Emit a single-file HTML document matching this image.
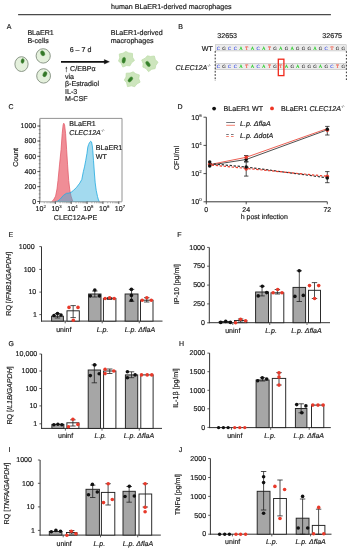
<!DOCTYPE html>
<html><head><meta charset="utf-8"><style>
html,body{margin:0;padding:0;background:#fff;width:351px;height:550px;overflow:hidden}
svg{display:block;will-change:transform}
text{font-family:"Liberation Sans", sans-serif;stroke-width:0.18px;text-rendering:geometricPrecision}
</style></head><body>
<svg width="351" height="550" viewBox="0 0 351 550">
<rect width="351" height="550" fill="#fff"/>
<text x="111" y="9.2" font-size="7.1" text-anchor="start" fill="#1a1a1a" stroke="#1a1a1a" >human BLaER1-derived macrophages</text>
<line x1="18.1" y1="14.7" x2="330.9" y2="14.7" stroke="#4a4a4a" stroke-width="1.3" />
<text x="6.7" y="28.7" font-size="7" text-anchor="start" fill="#1a1a1a" stroke="#1a1a1a" >A</text>
<text x="27.4" y="35.2" font-size="7.1" text-anchor="start" fill="#1a1a1a" stroke="#1a1a1a" >BLaER1</text>
<text x="27.4" y="43" font-size="7.1" text-anchor="start" fill="#1a1a1a" stroke="#1a1a1a" >B-cells</text>
<ellipse cx="21.5" cy="64.1" rx="6.6" ry="7.4" fill="#e4f0dc" stroke="#879384" stroke-width="0.95"/>
<ellipse cx="22.6" cy="61" rx="1.6" ry="2.4" transform="rotate(15 22.6 61)" fill="#347727" stroke="#5f9a55" stroke-width="0.4"/>
<ellipse cx="43.2" cy="55.9" rx="7.1" ry="7.2" fill="#e4f0dc" stroke="#879384" stroke-width="0.95"/>
<ellipse cx="42.7" cy="53.3" rx="2.0" ry="2.7" transform="rotate(-25 42.7 53.3)" fill="#347727" stroke="#5f9a55" stroke-width="0.4"/>
<ellipse cx="43.6" cy="75.9" rx="6.9" ry="7.2" fill="#e4f0dc" stroke="#879384" stroke-width="0.95"/>
<ellipse cx="44.9" cy="74.2" rx="1.9" ry="2.8" transform="rotate(25 44.9 74.2)" fill="#347727" stroke="#5f9a55" stroke-width="0.4"/>
<line x1="61" y1="61.8" x2="106" y2="61.8" stroke="#111" stroke-width="1.7" />
<polygon points="104.3,59.6 109.4,61.8 104.3,64" fill="#111" stroke="#111" stroke-width="0.4" stroke-linejoin="round"/>
<text x="69.7" y="52.1" font-size="7.1" text-anchor="start" fill="#1a1a1a" stroke="#1a1a1a" >6 – 7 d</text>
<text x="65" y="78.8" font-size="7.1" text-anchor="start" fill="#1a1a1a" stroke="#1a1a1a" >via</text>
<text x="65" y="86.3" font-size="7.1" text-anchor="start" fill="#1a1a1a" stroke="#1a1a1a" >β-Estradiol</text>
<text x="65" y="93.8" font-size="7.1" text-anchor="start" fill="#1a1a1a" stroke="#1a1a1a" >IL-3</text>
<text x="65" y="101.3" font-size="7.1" text-anchor="start" fill="#1a1a1a" stroke="#1a1a1a" >M-CSF</text>
<text x="70.1" y="71.3" font-size="7.1" text-anchor="start" fill="#1a1a1a" stroke="#1a1a1a" >C/EBPα</text>
<line x1="66.4" y1="67.6" x2="66.4" y2="72.2" stroke="#444" stroke-width="0.65" />
<polygon points="65.4,68.6 66.4,66.5 67.4,68.6" fill="#333"/>
<text x="110.7" y="35" font-size="7.1" text-anchor="start" fill="#1a1a1a" stroke="#1a1a1a" >BLaER1-derived</text>
<text x="110.7" y="42.8" font-size="7.1" text-anchor="start" fill="#1a1a1a" stroke="#1a1a1a" >macrophages</text>
<polygon points="134.47,60.46 131.56,62.85 129.94,65.86 126.53,65.59 122.81,67.05 121.25,63.37 118.52,61.16 119.70,57.85 119.24,54.00 123.04,53.20 125.82,51.45 128.76,52.92 132.50,53.44 132.55,57.21" fill="#cde5bd" stroke="#bcdca6" stroke-width="0.7" stroke-linejoin="round"/>
<ellipse cx="123.8" cy="60.2" rx="1.75" ry="3.0" transform="rotate(10 123.8 60.2)" fill="#347f2a" stroke="#5a9c48" stroke-width="0.45"/>
<polygon points="158.07,62.27 155.87,65.33 155.08,68.66 151.72,69.28 148.51,71.65 146.05,68.50 142.84,67.08 143.13,63.58 141.69,59.97 145.15,58.22 147.38,55.80 150.60,56.46 154.34,56.00 155.37,59.63" fill="#cde5bd" stroke="#bcdca6" stroke-width="0.7" stroke-linejoin="round"/>
<ellipse cx="148" cy="64" rx="1.75" ry="3.0" transform="rotate(-35 148 64)" fill="#347f2a" stroke="#5a9c48" stroke-width="0.45"/>
<polygon points="140.09,82.17 136.81,84.02 134.69,86.71 131.38,85.85 127.46,86.64 126.57,82.74 124.26,80.09 126.00,77.04 126.22,73.17 130.10,73.04 133.14,71.80 135.78,73.76 139.37,74.92 138.77,78.64" fill="#cde5bd" stroke="#bcdca6" stroke-width="0.7" stroke-linejoin="round"/>
<ellipse cx="130.4" cy="79.5" rx="1.75" ry="3.0" transform="rotate(40 130.4 79.5)" fill="#347f2a" stroke="#5a9c48" stroke-width="0.45"/>
<text x="178.3" y="28.7" font-size="7" text-anchor="start" fill="#1a1a1a" stroke="#1a1a1a" >B</text>
<text x="217.3" y="38.2" font-size="7.1" text-anchor="start" fill="#1a1a1a" stroke="#1a1a1a" >32653</text>
<text x="322.3" y="38.2" font-size="7.1" text-anchor="start" fill="#1a1a1a" stroke="#1a1a1a" >32675</text>
<text x="201.8" y="50.8" font-size="7.1" text-anchor="start" fill="#1a1a1a" stroke="#1a1a1a" >WT</text>
<text x="175.6" y="70" font-size="7.1" font-style="italic" fill="#1a1a1a" stroke="#1a1a1a">CLEC12A<tspan font-size="4.2" font-style="normal" dy="-3" fill="#555" style="stroke-width:0.05px">-/-</tspan></text>
<rect x="215.5" y="44.7" width="130.7" height="6.2" fill="#ececec" stroke="#bdbdbd" stroke-width="0.6"/>
<rect x="215.5" y="63.4" width="130.7" height="6.2" fill="#ececec" stroke="#bdbdbd" stroke-width="0.6"/>
<text x="218.30" y="49.9" font-size="4.8" text-anchor="middle" fill="#4a5ae6" stroke="#4a5ae6" style="stroke-width:0.12px;font-family:Liberation Serif;text-rendering:geometricPrecision">C</text>
<text x="223.98" y="49.9" font-size="4.8" text-anchor="middle" fill="#3a3a3a" stroke="#3a3a3a" style="stroke-width:0.12px;font-family:Liberation Serif;text-rendering:geometricPrecision">G</text>
<text x="229.66" y="49.9" font-size="4.8" text-anchor="middle" fill="#4a5ae6" stroke="#4a5ae6" style="stroke-width:0.12px;font-family:Liberation Serif;text-rendering:geometricPrecision">C</text>
<text x="235.34" y="49.9" font-size="4.8" text-anchor="middle" fill="#4a5ae6" stroke="#4a5ae6" style="stroke-width:0.12px;font-family:Liberation Serif;text-rendering:geometricPrecision">C</text>
<text x="241.02" y="49.9" font-size="4.8" text-anchor="middle" fill="#22cc22" stroke="#22cc22" style="stroke-width:0.12px;font-family:Liberation Serif;text-rendering:geometricPrecision">A</text>
<text x="246.70" y="49.9" font-size="4.8" text-anchor="middle" fill="#f0402c" stroke="#f0402c" style="stroke-width:0.12px;font-family:Liberation Serif;text-rendering:geometricPrecision">T</text>
<text x="252.38" y="49.9" font-size="4.8" text-anchor="middle" fill="#22cc22" stroke="#22cc22" style="stroke-width:0.12px;font-family:Liberation Serif;text-rendering:geometricPrecision">A</text>
<text x="258.06" y="49.9" font-size="4.8" text-anchor="middle" fill="#4a5ae6" stroke="#4a5ae6" style="stroke-width:0.12px;font-family:Liberation Serif;text-rendering:geometricPrecision">C</text>
<text x="263.74" y="49.9" font-size="4.8" text-anchor="middle" fill="#22cc22" stroke="#22cc22" style="stroke-width:0.12px;font-family:Liberation Serif;text-rendering:geometricPrecision">A</text>
<text x="269.42" y="49.9" font-size="4.8" text-anchor="middle" fill="#f0402c" stroke="#f0402c" style="stroke-width:0.12px;font-family:Liberation Serif;text-rendering:geometricPrecision">T</text>
<text x="275.10" y="49.9" font-size="4.8" text-anchor="middle" fill="#3a3a3a" stroke="#3a3a3a" style="stroke-width:0.12px;font-family:Liberation Serif;text-rendering:geometricPrecision">G</text>
<text x="280.78" y="49.9" font-size="4.8" text-anchor="middle" fill="#22cc22" stroke="#22cc22" style="stroke-width:0.12px;font-family:Liberation Serif;text-rendering:geometricPrecision">A</text>
<text x="286.46" y="49.9" font-size="4.8" text-anchor="middle" fill="#3a3a3a" stroke="#3a3a3a" style="stroke-width:0.12px;font-family:Liberation Serif;text-rendering:geometricPrecision">G</text>
<text x="292.14" y="49.9" font-size="4.8" text-anchor="middle" fill="#22cc22" stroke="#22cc22" style="stroke-width:0.12px;font-family:Liberation Serif;text-rendering:geometricPrecision">A</text>
<text x="297.82" y="49.9" font-size="4.8" text-anchor="middle" fill="#3a3a3a" stroke="#3a3a3a" style="stroke-width:0.12px;font-family:Liberation Serif;text-rendering:geometricPrecision">G</text>
<text x="303.50" y="49.9" font-size="4.8" text-anchor="middle" fill="#3a3a3a" stroke="#3a3a3a" style="stroke-width:0.12px;font-family:Liberation Serif;text-rendering:geometricPrecision">G</text>
<text x="309.18" y="49.9" font-size="4.8" text-anchor="middle" fill="#3a3a3a" stroke="#3a3a3a" style="stroke-width:0.12px;font-family:Liberation Serif;text-rendering:geometricPrecision">G</text>
<text x="314.86" y="49.9" font-size="4.8" text-anchor="middle" fill="#22cc22" stroke="#22cc22" style="stroke-width:0.12px;font-family:Liberation Serif;text-rendering:geometricPrecision">A</text>
<text x="320.54" y="49.9" font-size="4.8" text-anchor="middle" fill="#3a3a3a" stroke="#3a3a3a" style="stroke-width:0.12px;font-family:Liberation Serif;text-rendering:geometricPrecision">G</text>
<text x="326.22" y="49.9" font-size="4.8" text-anchor="middle" fill="#4a5ae6" stroke="#4a5ae6" style="stroke-width:0.12px;font-family:Liberation Serif;text-rendering:geometricPrecision">C</text>
<text x="331.90" y="49.9" font-size="4.8" text-anchor="middle" fill="#f0402c" stroke="#f0402c" style="stroke-width:0.12px;font-family:Liberation Serif;text-rendering:geometricPrecision">T</text>
<text x="337.58" y="49.9" font-size="4.8" text-anchor="middle" fill="#3a3a3a" stroke="#3a3a3a" style="stroke-width:0.12px;font-family:Liberation Serif;text-rendering:geometricPrecision">G</text>
<text x="343.26" y="49.9" font-size="4.8" text-anchor="middle" fill="#3a3a3a" stroke="#3a3a3a" style="stroke-width:0.12px;font-family:Liberation Serif;text-rendering:geometricPrecision">G</text>
<text x="218.30" y="68.2" font-size="4.8" text-anchor="middle" fill="#4a5ae6" stroke="#4a5ae6" style="stroke-width:0.12px;font-family:Liberation Serif;text-rendering:geometricPrecision">C</text>
<text x="223.98" y="68.2" font-size="4.8" text-anchor="middle" fill="#3a3a3a" stroke="#3a3a3a" style="stroke-width:0.12px;font-family:Liberation Serif;text-rendering:geometricPrecision">G</text>
<text x="229.66" y="68.2" font-size="4.8" text-anchor="middle" fill="#4a5ae6" stroke="#4a5ae6" style="stroke-width:0.12px;font-family:Liberation Serif;text-rendering:geometricPrecision">C</text>
<text x="235.34" y="68.2" font-size="4.8" text-anchor="middle" fill="#4a5ae6" stroke="#4a5ae6" style="stroke-width:0.12px;font-family:Liberation Serif;text-rendering:geometricPrecision">C</text>
<text x="241.02" y="68.2" font-size="4.8" text-anchor="middle" fill="#22cc22" stroke="#22cc22" style="stroke-width:0.12px;font-family:Liberation Serif;text-rendering:geometricPrecision">A</text>
<text x="246.70" y="68.2" font-size="4.8" text-anchor="middle" fill="#f0402c" stroke="#f0402c" style="stroke-width:0.12px;font-family:Liberation Serif;text-rendering:geometricPrecision">T</text>
<text x="252.38" y="68.2" font-size="4.8" text-anchor="middle" fill="#22cc22" stroke="#22cc22" style="stroke-width:0.12px;font-family:Liberation Serif;text-rendering:geometricPrecision">A</text>
<text x="258.06" y="68.2" font-size="4.8" text-anchor="middle" fill="#4a5ae6" stroke="#4a5ae6" style="stroke-width:0.12px;font-family:Liberation Serif;text-rendering:geometricPrecision">C</text>
<text x="263.74" y="68.2" font-size="4.8" text-anchor="middle" fill="#22cc22" stroke="#22cc22" style="stroke-width:0.12px;font-family:Liberation Serif;text-rendering:geometricPrecision">A</text>
<text x="269.42" y="68.2" font-size="4.8" text-anchor="middle" fill="#f0402c" stroke="#f0402c" style="stroke-width:0.12px;font-family:Liberation Serif;text-rendering:geometricPrecision">T</text>
<text x="275.10" y="68.2" font-size="4.8" text-anchor="middle" fill="#3a3a3a" stroke="#3a3a3a" style="stroke-width:0.12px;font-family:Liberation Serif;text-rendering:geometricPrecision">G</text>
<text x="280.78" y="68.2" font-size="4.8" text-anchor="middle" fill="#f0402c" stroke="#f0402c" style="stroke-width:0.12px;font-family:Liberation Serif;text-rendering:geometricPrecision">T</text>
<text x="286.46" y="68.2" font-size="4.8" text-anchor="middle" fill="#22cc22" stroke="#22cc22" style="stroke-width:0.12px;font-family:Liberation Serif;text-rendering:geometricPrecision">A</text>
<text x="292.14" y="68.2" font-size="4.8" text-anchor="middle" fill="#3a3a3a" stroke="#3a3a3a" style="stroke-width:0.12px;font-family:Liberation Serif;text-rendering:geometricPrecision">G</text>
<text x="297.82" y="68.2" font-size="4.8" text-anchor="middle" fill="#22cc22" stroke="#22cc22" style="stroke-width:0.12px;font-family:Liberation Serif;text-rendering:geometricPrecision">A</text>
<text x="303.50" y="68.2" font-size="4.8" text-anchor="middle" fill="#3a3a3a" stroke="#3a3a3a" style="stroke-width:0.12px;font-family:Liberation Serif;text-rendering:geometricPrecision">G</text>
<text x="309.18" y="68.2" font-size="4.8" text-anchor="middle" fill="#3a3a3a" stroke="#3a3a3a" style="stroke-width:0.12px;font-family:Liberation Serif;text-rendering:geometricPrecision">G</text>
<text x="314.86" y="68.2" font-size="4.8" text-anchor="middle" fill="#3a3a3a" stroke="#3a3a3a" style="stroke-width:0.12px;font-family:Liberation Serif;text-rendering:geometricPrecision">G</text>
<text x="320.54" y="68.2" font-size="4.8" text-anchor="middle" fill="#22cc22" stroke="#22cc22" style="stroke-width:0.12px;font-family:Liberation Serif;text-rendering:geometricPrecision">A</text>
<text x="326.22" y="68.2" font-size="4.8" text-anchor="middle" fill="#3a3a3a" stroke="#3a3a3a" style="stroke-width:0.12px;font-family:Liberation Serif;text-rendering:geometricPrecision">G</text>
<text x="331.90" y="68.2" font-size="4.8" text-anchor="middle" fill="#4a5ae6" stroke="#4a5ae6" style="stroke-width:0.12px;font-family:Liberation Serif;text-rendering:geometricPrecision">C</text>
<text x="337.58" y="68.2" font-size="4.8" text-anchor="middle" fill="#f0402c" stroke="#f0402c" style="stroke-width:0.12px;font-family:Liberation Serif;text-rendering:geometricPrecision">T</text>
<text x="343.26" y="68.2" font-size="4.8" text-anchor="middle" fill="#3a3a3a" stroke="#3a3a3a" style="stroke-width:0.12px;font-family:Liberation Serif;text-rendering:geometricPrecision">G</text>
<rect x="278.3" y="59.2" width="5.6" height="16.4" fill="none" stroke="#f0281a" stroke-width="1.3"/>
<line x1="215.2" y1="51" x2="215.2" y2="81" stroke="#333" stroke-width="1.0" stroke-dasharray="1.8,1.5"/>
<line x1="346.4" y1="51.2" x2="346.4" y2="81" stroke="#333" stroke-width="1.0" stroke-dasharray="1.6,1.8"/>
<text x="8.6" y="108.7" font-size="7" text-anchor="start" fill="#1a1a1a" stroke="#1a1a1a" >C</text>
<polyline points="39.8,118.4 122,118.4 122,201.6" fill="none" stroke="#777" stroke-width="0.8"/>
<text x="36.2" y="128.4" font-size="7" text-anchor="end" fill="#1a1a1a" stroke="#1a1a1a" >1000</text>
<text x="36.2" y="143.4" font-size="7" text-anchor="end" fill="#1a1a1a" stroke="#1a1a1a" >800</text>
<text x="36.2" y="158.70000000000002" font-size="7" text-anchor="end" fill="#1a1a1a" stroke="#1a1a1a" >600</text>
<text x="36.2" y="174.0" font-size="7" text-anchor="end" fill="#1a1a1a" stroke="#1a1a1a" >400</text>
<text x="36.2" y="189.1" font-size="7" text-anchor="end" fill="#1a1a1a" stroke="#1a1a1a" >200</text>
<text x="36.2" y="203.9" font-size="7" text-anchor="end" fill="#1a1a1a" stroke="#1a1a1a" >0</text>
<text x="35.55" y="211.3" font-size="7.1" fill="#1a1a1a" stroke="#1a1a1a">10<tspan font-size="4.3" dy="-2.9" style="stroke-width:0.1px">2</tspan></text>
<text x="51.41" y="211.3" font-size="7.1" fill="#1a1a1a" stroke="#1a1a1a">10<tspan font-size="4.3" dy="-2.9" style="stroke-width:0.1px">3</tspan></text>
<text x="67.27" y="211.3" font-size="7.1" fill="#1a1a1a" stroke="#1a1a1a">10<tspan font-size="4.3" dy="-2.9" style="stroke-width:0.1px">4</tspan></text>
<text x="83.13" y="211.3" font-size="7.1" fill="#1a1a1a" stroke="#1a1a1a">10<tspan font-size="4.3" dy="-2.9" style="stroke-width:0.1px">5</tspan></text>
<text x="98.99" y="211.3" font-size="7.1" fill="#1a1a1a" stroke="#1a1a1a">10<tspan font-size="4.3" dy="-2.9" style="stroke-width:0.1px">6</tspan></text>
<text x="114.85" y="211.3" font-size="7.1" fill="#1a1a1a" stroke="#1a1a1a">10<tspan font-size="4.3" dy="-2.9" style="stroke-width:0.1px">7</tspan></text>
<text x="75.5" y="220" font-size="7.1" text-anchor="middle" fill="#1a1a1a" stroke="#1a1a1a" >CLEC12A-PE</text>
<text x="18.5" y="157.4" font-size="7.1" text-anchor="middle" fill="#1a1a1a" stroke="#1a1a1a" transform="rotate(-90 18.5 157.4)">Count</text>
<polygon points="51.7,201.5 53.5,200 55.6,196.1 57,189 58,180.5 59.5,164.9 61.1,149.3 62.2,133.6 63.1,125 63.75,123.2 64.6,125 65.6,133.6 66.6,149.3 67.6,164.9 68.7,180.5 69.8,189.9 71,196.1 72.8,201.5" fill="#f08d96" stroke="#e25a68" stroke-width="0.75"/>
<polygon points="55.5,201.5 57.7,201.2 60.3,199 63.4,195.4 66.5,193.3 69,193.1 71.1,192.3 73.6,190.3 76.7,187.2 79.8,183.1 81.8,179.5 83.3,171.8 84.5,166.9 85.7,160.7 87,153.3 87.8,147.1 88.6,144.6 89.4,142.8 90.7,141.2 91.5,141.9 92.3,145.9 92.8,150.8 93.5,160.7 94.4,173 95.2,182.9 96.2,190.3 97.5,196.5 98.7,200.8 99.9,201.5" fill="#3bb0dd" fill-opacity="0.47" stroke="#2aaee0" stroke-width="0.85"/>
<line x1="39.8" y1="118.4" x2="39.8" y2="202.3" stroke="#a8a8a8" stroke-width="1.6" />
<line x1="38.7" y1="201.5" x2="40.3" y2="201.5" stroke="#666" stroke-width="0.7" />
<line x1="38.7" y1="197.725" x2="40.3" y2="197.725" stroke="#666" stroke-width="0.7" />
<line x1="38.7" y1="193.95" x2="40.3" y2="193.95" stroke="#666" stroke-width="0.7" />
<line x1="38.7" y1="190.175" x2="40.3" y2="190.175" stroke="#666" stroke-width="0.7" />
<line x1="38.7" y1="186.4" x2="40.3" y2="186.4" stroke="#666" stroke-width="0.7" />
<line x1="38.7" y1="182.625" x2="40.3" y2="182.625" stroke="#666" stroke-width="0.7" />
<line x1="38.7" y1="178.85" x2="40.3" y2="178.85" stroke="#666" stroke-width="0.7" />
<line x1="38.7" y1="175.075" x2="40.3" y2="175.075" stroke="#666" stroke-width="0.7" />
<line x1="38.7" y1="171.3" x2="40.3" y2="171.3" stroke="#666" stroke-width="0.7" />
<line x1="38.7" y1="167.525" x2="40.3" y2="167.525" stroke="#666" stroke-width="0.7" />
<line x1="38.7" y1="163.75" x2="40.3" y2="163.75" stroke="#666" stroke-width="0.7" />
<line x1="38.7" y1="159.975" x2="40.3" y2="159.975" stroke="#666" stroke-width="0.7" />
<line x1="38.7" y1="156.2" x2="40.3" y2="156.2" stroke="#666" stroke-width="0.7" />
<line x1="38.7" y1="152.425" x2="40.3" y2="152.425" stroke="#666" stroke-width="0.7" />
<line x1="38.7" y1="148.65" x2="40.3" y2="148.65" stroke="#666" stroke-width="0.7" />
<line x1="38.7" y1="144.875" x2="40.3" y2="144.875" stroke="#666" stroke-width="0.7" />
<line x1="38.7" y1="141.1" x2="40.3" y2="141.1" stroke="#666" stroke-width="0.7" />
<line x1="38.7" y1="137.325" x2="40.3" y2="137.325" stroke="#666" stroke-width="0.7" />
<line x1="38.7" y1="133.55" x2="40.3" y2="133.55" stroke="#666" stroke-width="0.7" />
<line x1="38.7" y1="129.775" x2="40.3" y2="129.775" stroke="#666" stroke-width="0.7" />
<line x1="38.7" y1="126.0" x2="40.3" y2="126.0" stroke="#666" stroke-width="0.7" />
<line x1="37.3" y1="126" x2="40" y2="126" stroke="#333" stroke-width="0.8" />
<line x1="37.3" y1="141" x2="40" y2="141" stroke="#333" stroke-width="0.8" />
<line x1="37.3" y1="156.3" x2="40" y2="156.3" stroke="#333" stroke-width="0.8" />
<line x1="37.3" y1="171.6" x2="40" y2="171.6" stroke="#333" stroke-width="0.8" />
<line x1="37.3" y1="186.7" x2="40" y2="186.7" stroke="#333" stroke-width="0.8" />
<line x1="37.3" y1="201.5" x2="40" y2="201.5" stroke="#333" stroke-width="0.8" />
<line x1="39.8" y1="201.8" x2="122" y2="201.8" stroke="#9a9a9a" stroke-width="1.0" />
<line x1="44.27433573123074" y1="202" x2="44.27433573123074" y2="203.3" stroke="#888" stroke-width="0.6" />
<line x1="47.067143099853844" y1="202" x2="47.067143099853844" y2="203.3" stroke="#888" stroke-width="0.6" />
<line x1="49.048671462461485" y1="202" x2="49.048671462461485" y2="203.3" stroke="#888" stroke-width="0.6" />
<line x1="50.58566426876926" y1="202" x2="50.58566426876926" y2="203.3" stroke="#888" stroke-width="0.6" />
<line x1="51.841478831084586" y1="202" x2="51.841478831084586" y2="203.3" stroke="#888" stroke-width="0.6" />
<line x1="52.90325491462611" y1="202" x2="52.90325491462611" y2="203.3" stroke="#888" stroke-width="0.6" />
<line x1="53.82300719369222" y1="202" x2="53.82300719369222" y2="203.3" stroke="#888" stroke-width="0.6" />
<line x1="54.63428619970769" y1="202" x2="54.63428619970769" y2="203.3" stroke="#888" stroke-width="0.6" />
<line x1="60.13433573123074" y1="202" x2="60.13433573123074" y2="203.3" stroke="#888" stroke-width="0.6" />
<line x1="62.92714309985384" y1="202" x2="62.92714309985384" y2="203.3" stroke="#888" stroke-width="0.6" />
<line x1="64.90867146246148" y1="202" x2="64.90867146246148" y2="203.3" stroke="#888" stroke-width="0.6" />
<line x1="66.44566426876926" y1="202" x2="66.44566426876926" y2="203.3" stroke="#888" stroke-width="0.6" />
<line x1="67.70147883108459" y1="202" x2="67.70147883108459" y2="203.3" stroke="#888" stroke-width="0.6" />
<line x1="68.76325491462612" y1="202" x2="68.76325491462612" y2="203.3" stroke="#888" stroke-width="0.6" />
<line x1="69.68300719369222" y1="202" x2="69.68300719369222" y2="203.3" stroke="#888" stroke-width="0.6" />
<line x1="70.49428619970769" y1="202" x2="70.49428619970769" y2="203.3" stroke="#888" stroke-width="0.6" />
<line x1="75.99433573123073" y1="202" x2="75.99433573123073" y2="203.3" stroke="#888" stroke-width="0.6" />
<line x1="78.78714309985385" y1="202" x2="78.78714309985385" y2="203.3" stroke="#888" stroke-width="0.6" />
<line x1="80.76867146246148" y1="202" x2="80.76867146246148" y2="203.3" stroke="#888" stroke-width="0.6" />
<line x1="82.30566426876926" y1="202" x2="82.30566426876926" y2="203.3" stroke="#888" stroke-width="0.6" />
<line x1="83.56147883108459" y1="202" x2="83.56147883108459" y2="203.3" stroke="#888" stroke-width="0.6" />
<line x1="84.62325491462612" y1="202" x2="84.62325491462612" y2="203.3" stroke="#888" stroke-width="0.6" />
<line x1="85.54300719369222" y1="202" x2="85.54300719369222" y2="203.3" stroke="#888" stroke-width="0.6" />
<line x1="86.35428619970769" y1="202" x2="86.35428619970769" y2="203.3" stroke="#888" stroke-width="0.6" />
<line x1="91.85433573123073" y1="202" x2="91.85433573123073" y2="203.3" stroke="#888" stroke-width="0.6" />
<line x1="94.64714309985385" y1="202" x2="94.64714309985385" y2="203.3" stroke="#888" stroke-width="0.6" />
<line x1="96.62867146246148" y1="202" x2="96.62867146246148" y2="203.3" stroke="#888" stroke-width="0.6" />
<line x1="98.16566426876926" y1="202" x2="98.16566426876926" y2="203.3" stroke="#888" stroke-width="0.6" />
<line x1="99.42147883108458" y1="202" x2="99.42147883108458" y2="203.3" stroke="#888" stroke-width="0.6" />
<line x1="100.48325491462612" y1="202" x2="100.48325491462612" y2="203.3" stroke="#888" stroke-width="0.6" />
<line x1="101.40300719369222" y1="202" x2="101.40300719369222" y2="203.3" stroke="#888" stroke-width="0.6" />
<line x1="102.21428619970769" y1="202" x2="102.21428619970769" y2="203.3" stroke="#888" stroke-width="0.6" />
<line x1="107.71433573123073" y1="202" x2="107.71433573123073" y2="203.3" stroke="#888" stroke-width="0.6" />
<line x1="110.50714309985385" y1="202" x2="110.50714309985385" y2="203.3" stroke="#888" stroke-width="0.6" />
<line x1="112.48867146246148" y1="202" x2="112.48867146246148" y2="203.3" stroke="#888" stroke-width="0.6" />
<line x1="114.02566426876926" y1="202" x2="114.02566426876926" y2="203.3" stroke="#888" stroke-width="0.6" />
<line x1="115.28147883108458" y1="202" x2="115.28147883108458" y2="203.3" stroke="#888" stroke-width="0.6" />
<line x1="116.34325491462612" y1="202" x2="116.34325491462612" y2="203.3" stroke="#888" stroke-width="0.6" />
<line x1="117.26300719369222" y1="202" x2="117.26300719369222" y2="203.3" stroke="#888" stroke-width="0.6" />
<line x1="118.07428619970769" y1="202" x2="118.07428619970769" y2="203.3" stroke="#888" stroke-width="0.6" />
<line x1="39.5" y1="201.5" x2="39.5" y2="204" stroke="#333" stroke-width="0.8" />
<line x1="55.36" y1="201.5" x2="55.36" y2="204" stroke="#333" stroke-width="0.8" />
<line x1="71.22" y1="201.5" x2="71.22" y2="204" stroke="#333" stroke-width="0.8" />
<line x1="87.08" y1="201.5" x2="87.08" y2="204" stroke="#333" stroke-width="0.8" />
<line x1="102.94" y1="201.5" x2="102.94" y2="204" stroke="#333" stroke-width="0.8" />
<line x1="118.8" y1="201.5" x2="118.8" y2="204" stroke="#333" stroke-width="0.8" />
<text x="69.3" y="126.4" font-size="7.1" text-anchor="start" fill="#1a1a1a" stroke="#1a1a1a" >BLaER1</text>
<text x="69.3" y="134.9" font-size="7.1" font-style="italic" fill="#1a1a1a" stroke="#1a1a1a">CLEC12A<tspan font-size="4.2" font-style="normal" dy="-3" fill="#555" style="stroke-width:0.05px">-/-</tspan></text>
<text x="95.8" y="150" font-size="7.1" text-anchor="start" fill="#1a1a1a" stroke="#1a1a1a" >BLaER1</text>
<text x="95.8" y="159" font-size="7.1" text-anchor="start" fill="#1a1a1a" stroke="#1a1a1a" >WT</text>
<text x="177.6" y="108.6" font-size="7" text-anchor="start" fill="#1a1a1a" stroke="#1a1a1a" >D</text>
<circle cx="214.1" cy="108.6" r="1.9" fill="#111" stroke="none" stroke-width="0"/>
<text x="223.6" y="111" font-size="7.1" text-anchor="start" fill="#1a1a1a" stroke="#1a1a1a" >BLaER1 WT</text>
<circle cx="272" cy="108.4" r="1.9" fill="#ee3524" stroke="none" stroke-width="0"/>
<text x="281" y="111" font-size="7.1" fill="#1a1a1a" stroke="#1a1a1a">BLaER1 <tspan font-style="italic">CLEC12A</tspan><tspan font-size="4.2" dy="-3" fill="#555" style="stroke-width:0.05px">-/-</tspan></text>
<line x1="226.2" y1="122.5" x2="235" y2="122.5" stroke="#505860" stroke-width="0.8" />
<line x1="226.2" y1="125.3" x2="235" y2="125.3" stroke="#f0604c" stroke-width="0.8" />
<line x1="226.2" y1="134.5" x2="235" y2="134.5" stroke="#505860" stroke-width="0.8" stroke-dasharray="2.6,2.2"/>
<line x1="226.2" y1="136.5" x2="235" y2="136.5" stroke="#f0604c" stroke-width="0.8" stroke-dasharray="2.6,2.2"/>
<text x="240" y="126.4" font-size="7.1" font-style="italic" fill="#1a1a1a" stroke="#1a1a1a">L.p. ΔflaA</text>
<text x="240" y="137.6" font-size="7.1" font-style="italic" fill="#1a1a1a" stroke="#1a1a1a">L.p. ΔdotA</text>
<line x1="206.3" y1="117.2" x2="206.3" y2="201.8" stroke="#222" stroke-width="0.9" />
<line x1="206.3" y1="201.8" x2="327.3" y2="201.8" stroke="#222" stroke-width="0.9" />
<line x1="203.5" y1="117.2" x2="206.3" y2="117.2" stroke="#222" stroke-width="0.8" />
<text x="201.6" y="119.60000000000001" font-size="7.1" text-anchor="end" fill="#1a1a1a" stroke="#1a1a1a">10<tspan font-size="4.3" dy="-2.9" style="stroke-width:0.1px">6</tspan></text>
<line x1="203.5" y1="145.4" x2="206.3" y2="145.4" stroke="#222" stroke-width="0.8" />
<text x="201.6" y="147.8" font-size="7.1" text-anchor="end" fill="#1a1a1a" stroke="#1a1a1a">10<tspan font-size="4.3" dy="-2.9" style="stroke-width:0.1px">4</tspan></text>
<line x1="203.5" y1="173.6" x2="206.3" y2="173.6" stroke="#222" stroke-width="0.8" />
<text x="201.6" y="176.0" font-size="7.1" text-anchor="end" fill="#1a1a1a" stroke="#1a1a1a">10<tspan font-size="4.3" dy="-2.9" style="stroke-width:0.1px">2</tspan></text>
<line x1="203.5" y1="201.8" x2="206.3" y2="201.8" stroke="#222" stroke-width="0.8" />
<text x="201.6" y="204.20000000000002" font-size="7.1" text-anchor="end" fill="#1a1a1a" stroke="#1a1a1a">10<tspan font-size="4.3" dy="-2.9" style="stroke-width:0.1px">0</tspan></text>
<line x1="206.3" y1="201.8" x2="206.3" y2="204.3" stroke="#222" stroke-width="0.8" />
<text x="206.3" y="212" font-size="7" text-anchor="middle" fill="#1a1a1a" stroke="#1a1a1a" >0</text>
<line x1="246.2" y1="201.8" x2="246.2" y2="204.3" stroke="#222" stroke-width="0.8" />
<text x="246.2" y="212" font-size="7" text-anchor="middle" fill="#1a1a1a" stroke="#1a1a1a" >24</text>
<line x1="327.3" y1="201.8" x2="327.3" y2="204.3" stroke="#222" stroke-width="0.8" />
<text x="327.3" y="212" font-size="7" text-anchor="middle" fill="#1a1a1a" stroke="#1a1a1a" >72</text>
<text x="264.3" y="219.4" font-size="7" text-anchor="middle" fill="#1a1a1a" stroke="#1a1a1a" >h post infection</text>
<text x="179" y="158" font-size="7.1" text-anchor="middle" fill="#1a1a1a" stroke="#1a1a1a" transform="rotate(-90 179 158)">CFU/ml</text>
<line x1="209.7" y1="165.2" x2="246.2" y2="159.5" stroke="#222" stroke-width="0.8" />
<line x1="246.2" y1="159.5" x2="327.3" y2="129.8" stroke="#222" stroke-width="0.8" />
<line x1="209.7" y1="164.6" x2="246.2" y2="157.3" stroke="#e8392a" stroke-width="0.8" />
<line x1="246.2" y1="157.3" x2="327.3" y2="128.6" stroke="#e8392a" stroke-width="0.8" />
<line x1="209.7" y1="163.6" x2="246.2" y2="167" stroke="#333" stroke-width="1.2" stroke-dasharray="2.4,1.6"/>
<line x1="246.2" y1="167" x2="327.3" y2="177.8" stroke="#333" stroke-width="1.2" stroke-dasharray="2.4,1.6"/>
<line x1="209.7" y1="164.9" x2="246.2" y2="168.4" stroke="#ee3a2a" stroke-width="1.2" stroke-dasharray="2.4,1.6" stroke-dashoffset="2"/>
<line x1="246.2" y1="168.4" x2="327.3" y2="176.3" stroke="#ee3a2a" stroke-width="1.2" stroke-dasharray="2.4,1.6" stroke-dashoffset="2"/>
<line x1="246.2" y1="162.1" x2="246.2" y2="176.1" stroke="#222" stroke-width="0.8" />
<line x1="244.0" y1="162.1" x2="248.39999999999998" y2="162.1" stroke="#222" stroke-width="0.8" />
<line x1="244.0" y1="176.1" x2="248.39999999999998" y2="176.1" stroke="#222" stroke-width="0.8" />
<line x1="246.2" y1="155.5" x2="246.2" y2="161.5" stroke="#222" stroke-width="0.8" />
<line x1="244.0" y1="155.5" x2="248.39999999999998" y2="155.5" stroke="#222" stroke-width="0.8" />
<line x1="244.0" y1="161.5" x2="248.39999999999998" y2="161.5" stroke="#222" stroke-width="0.8" />
<line x1="327.3" y1="126.4" x2="327.3" y2="135" stroke="#222" stroke-width="0.8" />
<line x1="325.1" y1="126.4" x2="329.5" y2="126.4" stroke="#222" stroke-width="0.8" />
<line x1="325.1" y1="135" x2="329.5" y2="135" stroke="#222" stroke-width="0.8" />
<line x1="327.3" y1="171.6" x2="327.3" y2="182.7" stroke="#222" stroke-width="0.8" />
<line x1="325.1" y1="171.6" x2="329.5" y2="171.6" stroke="#222" stroke-width="0.8" />
<line x1="325.1" y1="182.7" x2="329.5" y2="182.7" stroke="#222" stroke-width="0.8" />
<circle cx="209.7" cy="164.2" r="1.75" fill="#e8392a" stroke="none" stroke-width="0"/>
<circle cx="209.7" cy="162.1" r="1.75" fill="#111" stroke="none" stroke-width="0"/>
<circle cx="209.7" cy="165.9" r="1.75" fill="#111" stroke="none" stroke-width="0"/>
<circle cx="246.2" cy="159.5" r="1.75" fill="#111" stroke="none" stroke-width="0"/>
<circle cx="246.2" cy="157.3" r="1.75" fill="#e8392a" stroke="none" stroke-width="0"/>
<circle cx="246.2" cy="169" r="1.75" fill="#e8392a" stroke="none" stroke-width="0"/>
<circle cx="246.2" cy="166.9" r="1.75" fill="#111" stroke="none" stroke-width="0"/>
<circle cx="327.3" cy="130.3" r="1.75" fill="#e8392a" stroke="none" stroke-width="0"/>
<circle cx="327.3" cy="129.3" r="1.75" fill="#111" stroke="none" stroke-width="0"/>
<circle cx="327.3" cy="176.3" r="1.75" fill="#e8392a" stroke="none" stroke-width="0"/>
<circle cx="327.3" cy="177.9" r="1.75" fill="#111" stroke="none" stroke-width="0"/>
<text x="8.5" y="236.5" font-size="7" text-anchor="start" fill="#1a1a1a" stroke="#1a1a1a" >E</text>
<line x1="41.5" y1="246.6" x2="41.5" y2="321.6" stroke="#333" stroke-width="1.0" />
<line x1="41.0" y1="321.1" x2="162.5" y2="321.1" stroke="#333" stroke-width="1.0" />
<line x1="39.3" y1="246.6" x2="41.5" y2="246.6" stroke="#333" stroke-width="0.8" />
<text x="34.6" y="248.79999999999998" font-size="7.1" text-anchor="end" fill="#1a1a1a" stroke="#1a1a1a">1000</text>
<line x1="39.3" y1="269.4" x2="41.5" y2="269.4" stroke="#333" stroke-width="0.8" />
<text x="35.5" y="271.59999999999997" font-size="7.1" text-anchor="end" fill="#1a1a1a" stroke="#1a1a1a">100</text>
<line x1="39.3" y1="292.1" x2="41.5" y2="292.1" stroke="#333" stroke-width="0.8" />
<text x="36.3" y="294.3" font-size="7.1" text-anchor="end" fill="#1a1a1a" stroke="#1a1a1a">10</text>
<line x1="39.3" y1="314.6" x2="41.5" y2="314.6" stroke="#333" stroke-width="0.8" />
<text x="37" y="316.8" font-size="7.1" text-anchor="end" fill="#1a1a1a" stroke="#1a1a1a">1</text>
<text x="11.5" y="283.8" font-size="7.1" text-anchor="middle" fill="#1a1a1a" stroke="#1a1a1a" transform="rotate(-90 11.5 283.8)">RQ [<tspan font-style="italic">IFNB1/GAPDH</tspan>]</text>
<line x1="65.2" y1="321.1" x2="65.2" y2="323.3" stroke="#333" stroke-width="0.8" />
<line x1="102.2" y1="321.1" x2="102.2" y2="323.3" stroke="#333" stroke-width="0.8" />
<line x1="139.25" y1="321.1" x2="139.25" y2="323.3" stroke="#333" stroke-width="0.8" />
<rect x="51.6" y="316.2" width="11.799999999999997" height="4.900000000000034" fill="#a6a6a6" stroke="#222" stroke-width="0.95"/>
<line x1="57.5" y1="313.5" x2="57.5" y2="318" stroke="#222" stroke-width="0.8" />
<line x1="54.8" y1="313.5" x2="60.2" y2="313.5" stroke="#222" stroke-width="0.8" />
<line x1="54.8" y1="318" x2="60.2" y2="318" stroke="#222" stroke-width="0.8" />
<circle cx="54" cy="315.6" r="1.8" fill="#111" stroke="none" stroke-width="0"/>
<circle cx="57.5" cy="313.5" r="1.8" fill="#111" stroke="none" stroke-width="0"/>
<circle cx="61" cy="315" r="1.8" fill="#111" stroke="none" stroke-width="0"/>
<rect x="67" y="310.8" width="12.299999999999997" height="10.300000000000011" fill="#fff" stroke="#222" stroke-width="0.95"/>
<line x1="73.15" y1="305.6" x2="73.15" y2="317.6" stroke="#222" stroke-width="0.8" />
<line x1="70.45" y1="305.6" x2="75.85000000000001" y2="305.6" stroke="#222" stroke-width="0.8" />
<line x1="70.45" y1="317.6" x2="75.85000000000001" y2="317.6" stroke="#222" stroke-width="0.8" />
<circle cx="69" cy="307.4" r="1.8" fill="#e8392a" stroke="none" stroke-width="0"/>
<circle cx="78" cy="307.4" r="1.8" fill="#e8392a" stroke="none" stroke-width="0"/>
<circle cx="73.3" cy="320.2" r="1.8" fill="#e8392a" stroke="none" stroke-width="0"/>
<rect x="88.6" y="294" width="12.400000000000006" height="27.100000000000023" fill="#a6a6a6" stroke="#222" stroke-width="0.95"/>
<line x1="94.8" y1="291" x2="94.8" y2="297" stroke="#222" stroke-width="0.8" />
<line x1="92.1" y1="291" x2="97.5" y2="291" stroke="#222" stroke-width="0.8" />
<line x1="92.1" y1="297" x2="97.5" y2="297" stroke="#222" stroke-width="0.8" />
<circle cx="90.3" cy="295.9" r="1.8" fill="#111" stroke="none" stroke-width="0"/>
<circle cx="94.8" cy="290" r="1.8" fill="#111" stroke="none" stroke-width="0"/>
<circle cx="99.4" cy="295.9" r="1.8" fill="#111" stroke="none" stroke-width="0"/>
<rect x="103.4" y="298.5" width="12.5" height="22.600000000000023" fill="#fff" stroke="#222" stroke-width="0.95"/>
<line x1="109.65" y1="297.5" x2="109.65" y2="299.5" stroke="#222" stroke-width="0.8" />
<line x1="106.95" y1="297.5" x2="112.35000000000001" y2="297.5" stroke="#222" stroke-width="0.8" />
<line x1="106.95" y1="299.5" x2="112.35000000000001" y2="299.5" stroke="#222" stroke-width="0.8" />
<circle cx="105.1" cy="298.5" r="1.8" fill="#e8392a" stroke="none" stroke-width="0"/>
<circle cx="109.6" cy="297.7" r="1.8" fill="#e8392a" stroke="none" stroke-width="0"/>
<circle cx="114.2" cy="298.5" r="1.8" fill="#e8392a" stroke="none" stroke-width="0"/>
<rect x="125.1" y="294" width="12.900000000000006" height="27.100000000000023" fill="#a6a6a6" stroke="#222" stroke-width="0.95"/>
<line x1="131.55" y1="289.4" x2="131.55" y2="301.4" stroke="#222" stroke-width="0.8" />
<line x1="128.85000000000002" y1="289.4" x2="134.25" y2="289.4" stroke="#222" stroke-width="0.8" />
<line x1="128.85000000000002" y1="301.4" x2="134.25" y2="301.4" stroke="#222" stroke-width="0.8" />
<circle cx="131.4" cy="289.4" r="1.8" fill="#111" stroke="none" stroke-width="0"/>
<circle cx="131.4" cy="295.4" r="1.8" fill="#111" stroke="none" stroke-width="0"/>
<circle cx="131.4" cy="300.2" r="1.8" fill="#111" stroke="none" stroke-width="0"/>
<rect x="140.5" y="300.2" width="12.5" height="20.900000000000034" fill="#fff" stroke="#222" stroke-width="0.95"/>
<line x1="146.75" y1="297.7" x2="146.75" y2="302" stroke="#222" stroke-width="0.8" />
<line x1="144.05" y1="297.7" x2="149.45" y2="297.7" stroke="#222" stroke-width="0.8" />
<line x1="144.05" y1="302" x2="149.45" y2="302" stroke="#222" stroke-width="0.8" />
<circle cx="142.2" cy="300.2" r="1.8" fill="#e8392a" stroke="none" stroke-width="0"/>
<circle cx="146.8" cy="297.7" r="1.8" fill="#e8392a" stroke="none" stroke-width="0"/>
<circle cx="151.3" cy="300.2" r="1.8" fill="#e8392a" stroke="none" stroke-width="0"/>
<text x="63.8" y="332.2" font-size="7" text-anchor="middle" fill="#1a1a1a" stroke="#1a1a1a" >uninf</text>
<text x="102.5" y="332.2" font-size="7" text-anchor="middle" font-style="italic" fill="#1a1a1a" stroke="#1a1a1a" >L.p.</text>
<text x="139.9" y="332.2" font-size="7" text-anchor="middle" font-style="italic" fill="#1a1a1a" stroke="#1a1a1a" >L.p. ΔflaA</text>
<text x="177.2" y="236.5" font-size="7" text-anchor="start" fill="#1a1a1a" stroke="#1a1a1a" >F</text>
<line x1="209.3" y1="247.4" x2="209.3" y2="323.2" stroke="#333" stroke-width="1.0" />
<line x1="208.8" y1="322.7" x2="330" y2="322.7" stroke="#333" stroke-width="1.0" />
<line x1="207.10000000000002" y1="247.4" x2="209.3" y2="247.4" stroke="#333" stroke-width="0.8" />
<text x="205.0" y="249.6" font-size="7.1" text-anchor="end" fill="#1a1a1a" stroke="#1a1a1a">1000</text>
<line x1="207.10000000000002" y1="266.2" x2="209.3" y2="266.2" stroke="#333" stroke-width="0.8" />
<text x="205.0" y="268.4" font-size="7.1" text-anchor="end" fill="#1a1a1a" stroke="#1a1a1a">750</text>
<line x1="207.10000000000002" y1="285.1" x2="209.3" y2="285.1" stroke="#333" stroke-width="0.8" />
<text x="205.0" y="287.3" font-size="7.1" text-anchor="end" fill="#1a1a1a" stroke="#1a1a1a">500</text>
<line x1="207.10000000000002" y1="303.9" x2="209.3" y2="303.9" stroke="#333" stroke-width="0.8" />
<text x="205.0" y="306.09999999999997" font-size="7.1" text-anchor="end" fill="#1a1a1a" stroke="#1a1a1a">250</text>
<line x1="207.10000000000002" y1="322.8" x2="209.3" y2="322.8" stroke="#333" stroke-width="0.8" />
<text x="205.0" y="325.0" font-size="7.1" text-anchor="end" fill="#1a1a1a" stroke="#1a1a1a">0</text>
<text x="179.3" y="284.2" font-size="7.1" text-anchor="middle" fill="#1a1a1a" stroke="#1a1a1a" transform="rotate(-90 179.3 284.2)">IP-10 [pg/ml]</text>
<line x1="232.8" y1="322.7" x2="232.8" y2="324.9" stroke="#333" stroke-width="0.8" />
<line x1="269.75" y1="322.7" x2="269.75" y2="324.9" stroke="#333" stroke-width="0.8" />
<line x1="307" y1="322.7" x2="307" y2="324.9" stroke="#333" stroke-width="0.8" />
<rect x="219.2" y="321.6" width="11.800000000000011" height="1.099999999999966" fill="#a6a6a6" stroke="#222" stroke-width="0.95"/>
<circle cx="220.7" cy="322.4" r="1.8" fill="#111" stroke="none" stroke-width="0"/>
<circle cx="225.7" cy="321.4" r="1.8" fill="#111" stroke="none" stroke-width="0"/>
<circle cx="230.4" cy="322.4" r="1.8" fill="#111" stroke="none" stroke-width="0"/>
<rect x="234.5" y="320.5" width="12.300000000000011" height="2.1999999999999886" fill="#fff" stroke="#222" stroke-width="0.95"/>
<line x1="240.65" y1="319" x2="240.65" y2="322" stroke="#222" stroke-width="0.8" />
<line x1="237.95000000000002" y1="319" x2="243.35" y2="319" stroke="#222" stroke-width="0.8" />
<line x1="237.95000000000002" y1="322" x2="243.35" y2="322" stroke="#222" stroke-width="0.8" />
<circle cx="235.6" cy="322.8" r="1.8" fill="#e8392a" stroke="none" stroke-width="0"/>
<circle cx="240.6" cy="319.2" r="1.8" fill="#e8392a" stroke="none" stroke-width="0"/>
<circle cx="245.6" cy="320.7" r="1.8" fill="#e8392a" stroke="none" stroke-width="0"/>
<rect x="255.6" y="292" width="12.900000000000006" height="30.69999999999999" fill="#a6a6a6" stroke="#222" stroke-width="0.95"/>
<line x1="262.05" y1="286.2" x2="262.05" y2="295.9" stroke="#222" stroke-width="0.8" />
<line x1="259.35" y1="286.2" x2="264.75" y2="286.2" stroke="#222" stroke-width="0.8" />
<line x1="259.35" y1="295.9" x2="264.75" y2="295.9" stroke="#222" stroke-width="0.8" />
<circle cx="258.2" cy="295.9" r="1.8" fill="#111" stroke="none" stroke-width="0"/>
<circle cx="262.3" cy="286.2" r="1.8" fill="#111" stroke="none" stroke-width="0"/>
<circle cx="266.7" cy="292.6" r="1.8" fill="#111" stroke="none" stroke-width="0"/>
<rect x="271" y="292.8" width="12.800000000000011" height="29.899999999999977" fill="#fff" stroke="#222" stroke-width="0.95"/>
<line x1="277.4" y1="289.5" x2="277.4" y2="294" stroke="#222" stroke-width="0.8" />
<line x1="274.7" y1="289.5" x2="280.09999999999997" y2="289.5" stroke="#222" stroke-width="0.8" />
<line x1="274.7" y1="294" x2="280.09999999999997" y2="294" stroke="#222" stroke-width="0.8" />
<circle cx="273.1" cy="292.8" r="1.8" fill="#e8392a" stroke="none" stroke-width="0"/>
<circle cx="277.7" cy="289.5" r="1.8" fill="#e8392a" stroke="none" stroke-width="0"/>
<circle cx="282" cy="292.8" r="1.8" fill="#e8392a" stroke="none" stroke-width="0"/>
<rect x="293" y="287.4" width="12.600000000000023" height="35.30000000000001" fill="#a6a6a6" stroke="#222" stroke-width="0.95"/>
<line x1="299.3" y1="270.8" x2="299.3" y2="301.5" stroke="#222" stroke-width="0.8" />
<line x1="296.6" y1="270.8" x2="302.0" y2="270.8" stroke="#222" stroke-width="0.8" />
<line x1="296.6" y1="301.5" x2="302.0" y2="301.5" stroke="#222" stroke-width="0.8" />
<circle cx="299.2" cy="270.8" r="1.8" fill="#111" stroke="none" stroke-width="0"/>
<circle cx="294.9" cy="296.4" r="1.8" fill="#111" stroke="none" stroke-width="0"/>
<circle cx="303.3" cy="295.4" r="1.8" fill="#111" stroke="none" stroke-width="0"/>
<rect x="308.5" y="290.3" width="12.0" height="32.39999999999998" fill="#fff" stroke="#222" stroke-width="0.95"/>
<line x1="314.5" y1="282.6" x2="314.5" y2="298.5" stroke="#222" stroke-width="0.8" />
<line x1="311.8" y1="282.6" x2="317.2" y2="282.6" stroke="#222" stroke-width="0.8" />
<line x1="311.8" y1="298.5" x2="317.2" y2="298.5" stroke="#222" stroke-width="0.8" />
<circle cx="309.5" cy="285.6" r="1.8" fill="#e8392a" stroke="none" stroke-width="0"/>
<circle cx="318.7" cy="285.6" r="1.8" fill="#e8392a" stroke="none" stroke-width="0"/>
<circle cx="314.6" cy="298.5" r="1.8" fill="#e8392a" stroke="none" stroke-width="0"/>
<text x="232.8" y="332.8" font-size="7" text-anchor="middle" fill="#1a1a1a" stroke="#1a1a1a" >uninf</text>
<text x="271" y="332.8" font-size="7" text-anchor="middle" font-style="italic" fill="#1a1a1a" stroke="#1a1a1a" >L.p.</text>
<text x="306.4" y="332.8" font-size="7" text-anchor="middle" font-style="italic" fill="#1a1a1a" stroke="#1a1a1a" >L.p. ΔflaA</text>
<text x="8.6" y="345.8" font-size="7" text-anchor="start" fill="#1a1a1a" stroke="#1a1a1a" >G</text>
<line x1="41.6" y1="354" x2="41.6" y2="428.9" stroke="#333" stroke-width="1.0" />
<line x1="41.1" y1="428.4" x2="162" y2="428.4" stroke="#333" stroke-width="1.0" />
<line x1="39.4" y1="354" x2="41.6" y2="354" stroke="#333" stroke-width="0.8" />
<text x="37.300000000000004" y="356.2" font-size="7.1" text-anchor="end" fill="#1a1a1a" stroke="#1a1a1a">10,000</text>
<line x1="39.4" y1="371" x2="41.6" y2="371" stroke="#333" stroke-width="0.8" />
<text x="37.300000000000004" y="373.2" font-size="7.1" text-anchor="end" fill="#1a1a1a" stroke="#1a1a1a">1000</text>
<line x1="39.4" y1="388.5" x2="41.6" y2="388.5" stroke="#333" stroke-width="0.8" />
<text x="37.300000000000004" y="390.7" font-size="7.1" text-anchor="end" fill="#1a1a1a" stroke="#1a1a1a">100</text>
<line x1="39.4" y1="405.9" x2="41.6" y2="405.9" stroke="#333" stroke-width="0.8" />
<text x="37.300000000000004" y="408.09999999999997" font-size="7.1" text-anchor="end" fill="#1a1a1a" stroke="#1a1a1a">10</text>
<line x1="39.4" y1="423.8" x2="41.6" y2="423.8" stroke="#333" stroke-width="0.8" />
<text x="37.300000000000004" y="426.0" font-size="7.1" text-anchor="end" fill="#1a1a1a" stroke="#1a1a1a">1</text>
<text x="12.3" y="395.4" font-size="7.1" text-anchor="middle" fill="#1a1a1a" stroke="#1a1a1a" transform="rotate(-90 12.3 395.4)">RQ [<tspan font-style="italic">IL1B/GAPDH</tspan>]</text>
<line x1="65.4" y1="428.4" x2="65.4" y2="430.59999999999997" stroke="#333" stroke-width="0.8" />
<line x1="102" y1="428.4" x2="102" y2="430.59999999999997" stroke="#333" stroke-width="0.8" />
<line x1="139.25" y1="428.4" x2="139.25" y2="430.59999999999997" stroke="#333" stroke-width="0.8" />
<rect x="51.9" y="424.4" width="12.0" height="4.0" fill="#a6a6a6" stroke="#222" stroke-width="0.95"/>
<circle cx="53.9" cy="424.8" r="1.8" fill="#111" stroke="none" stroke-width="0"/>
<circle cx="57.9" cy="424.3" r="1.8" fill="#111" stroke="none" stroke-width="0"/>
<circle cx="61.9" cy="424.8" r="1.8" fill="#111" stroke="none" stroke-width="0"/>
<rect x="66.9" y="422.8" width="12.0" height="5.599999999999966" fill="#fff" stroke="#222" stroke-width="0.95"/>
<line x1="72.9" y1="419.8" x2="72.9" y2="426" stroke="#222" stroke-width="0.8" />
<line x1="70.2" y1="419.8" x2="75.60000000000001" y2="419.8" stroke="#222" stroke-width="0.8" />
<line x1="70.2" y1="426" x2="75.60000000000001" y2="426" stroke="#222" stroke-width="0.8" />
<circle cx="68.5" cy="426.8" r="1.8" fill="#e8392a" stroke="none" stroke-width="0"/>
<circle cx="72.9" cy="419.3" r="1.8" fill="#e8392a" stroke="none" stroke-width="0"/>
<circle cx="77.9" cy="424.4" r="1.8" fill="#e8392a" stroke="none" stroke-width="0"/>
<rect x="88.2" y="370" width="12.299999999999997" height="58.39999999999998" fill="#a6a6a6" stroke="#222" stroke-width="0.95"/>
<line x1="94.35" y1="364.9" x2="94.35" y2="382.8" stroke="#222" stroke-width="0.8" />
<line x1="91.64999999999999" y1="364.9" x2="97.05" y2="364.9" stroke="#222" stroke-width="0.8" />
<line x1="91.64999999999999" y1="382.8" x2="97.05" y2="382.8" stroke="#222" stroke-width="0.8" />
<circle cx="90.3" cy="375.6" r="1.8" fill="#111" stroke="none" stroke-width="0"/>
<circle cx="94.6" cy="364.9" r="1.8" fill="#111" stroke="none" stroke-width="0"/>
<circle cx="99.2" cy="373.8" r="1.8" fill="#111" stroke="none" stroke-width="0"/>
<rect x="103.6" y="371" width="12.300000000000011" height="57.39999999999998" fill="#fff" stroke="#222" stroke-width="0.95"/>
<line x1="109.75" y1="369" x2="109.75" y2="373.5" stroke="#222" stroke-width="0.8" />
<line x1="107.05" y1="369" x2="112.45" y2="369" stroke="#222" stroke-width="0.8" />
<line x1="107.05" y1="373.5" x2="112.45" y2="373.5" stroke="#222" stroke-width="0.8" />
<circle cx="105.1" cy="369.2" r="1.8" fill="#e8392a" stroke="none" stroke-width="0"/>
<circle cx="105.1" cy="373.6" r="1.8" fill="#e8392a" stroke="none" stroke-width="0"/>
<circle cx="113.8" cy="371" r="1.8" fill="#e8392a" stroke="none" stroke-width="0"/>
<rect x="125.4" y="374.9" width="12.299999999999983" height="53.5" fill="#a6a6a6" stroke="#222" stroke-width="0.95"/>
<line x1="131.55" y1="371.8" x2="131.55" y2="377.7" stroke="#222" stroke-width="0.8" />
<line x1="128.85000000000002" y1="371.8" x2="134.25" y2="371.8" stroke="#222" stroke-width="0.8" />
<line x1="128.85000000000002" y1="377.7" x2="134.25" y2="377.7" stroke="#222" stroke-width="0.8" />
<circle cx="127.4" cy="371.8" r="1.8" fill="#111" stroke="none" stroke-width="0"/>
<circle cx="127.4" cy="377.7" r="1.8" fill="#111" stroke="none" stroke-width="0"/>
<circle cx="135.1" cy="374.9" r="1.8" fill="#111" stroke="none" stroke-width="0"/>
<rect x="140.8" y="374.9" width="12.299999999999983" height="53.5" fill="#fff" stroke="#222" stroke-width="0.95"/>
<circle cx="141.5" cy="374.9" r="1.8" fill="#e8392a" stroke="none" stroke-width="0"/>
<circle cx="147.2" cy="374.9" r="1.8" fill="#e8392a" stroke="none" stroke-width="0"/>
<circle cx="151.8" cy="374.9" r="1.8" fill="#e8392a" stroke="none" stroke-width="0"/>
<text x="65.6" y="438.1" font-size="7" text-anchor="middle" fill="#1a1a1a" stroke="#1a1a1a" >uninf</text>
<text x="100.4" y="438.1" font-size="7" text-anchor="middle" font-style="italic" fill="#1a1a1a" stroke="#1a1a1a" >L.p.</text>
<text x="138.9" y="438.1" font-size="7" text-anchor="middle" font-style="italic" fill="#1a1a1a" stroke="#1a1a1a" >L.p. ΔflaA</text>
<text x="178.9" y="345.8" font-size="7" text-anchor="start" fill="#1a1a1a" stroke="#1a1a1a" >H</text>
<line x1="209.6" y1="353.1" x2="209.6" y2="428.1" stroke="#333" stroke-width="1.0" />
<line x1="209.1" y1="427.6" x2="330.8" y2="427.6" stroke="#333" stroke-width="1.0" />
<line x1="207.4" y1="353.1" x2="209.6" y2="353.1" stroke="#333" stroke-width="0.8" />
<text x="205.29999999999998" y="355.3" font-size="7.1" text-anchor="end" fill="#1a1a1a" stroke="#1a1a1a">2000</text>
<line x1="207.4" y1="371.7" x2="209.6" y2="371.7" stroke="#333" stroke-width="0.8" />
<text x="205.29999999999998" y="373.9" font-size="7.1" text-anchor="end" fill="#1a1a1a" stroke="#1a1a1a">1500</text>
<line x1="207.4" y1="390.3" x2="209.6" y2="390.3" stroke="#333" stroke-width="0.8" />
<text x="205.29999999999998" y="392.5" font-size="7.1" text-anchor="end" fill="#1a1a1a" stroke="#1a1a1a">1000</text>
<line x1="207.4" y1="408.8" x2="209.6" y2="408.8" stroke="#333" stroke-width="0.8" />
<text x="205.29999999999998" y="411.0" font-size="7.1" text-anchor="end" fill="#1a1a1a" stroke="#1a1a1a">500</text>
<line x1="207.4" y1="427.4" x2="209.6" y2="427.4" stroke="#333" stroke-width="0.8" />
<text x="205.29999999999998" y="429.59999999999997" font-size="7.1" text-anchor="end" fill="#1a1a1a" stroke="#1a1a1a">0</text>
<text x="178.1" y="388" font-size="7.1" text-anchor="middle" fill="#1a1a1a" stroke="#1a1a1a" transform="rotate(-90 178.1 388)">IL-1β [pg/ml]</text>
<line x1="231.5" y1="427.6" x2="231.5" y2="429.8" stroke="#333" stroke-width="0.8" />
<line x1="270.7" y1="427.6" x2="270.7" y2="429.8" stroke="#333" stroke-width="0.8" />
<line x1="309.2" y1="427.6" x2="309.2" y2="429.8" stroke="#333" stroke-width="0.8" />
<rect x="256.1" y="380" width="13.0" height="47.60000000000002" fill="#a6a6a6" stroke="#222" stroke-width="0.95"/>
<line x1="262.6" y1="377.7" x2="262.6" y2="381" stroke="#222" stroke-width="0.8" />
<line x1="259.90000000000003" y1="377.7" x2="265.3" y2="377.7" stroke="#222" stroke-width="0.8" />
<line x1="259.90000000000003" y1="381" x2="265.3" y2="381" stroke="#222" stroke-width="0.8" />
<circle cx="257.7" cy="380.8" r="1.8" fill="#111" stroke="none" stroke-width="0"/>
<circle cx="262.3" cy="377.7" r="1.8" fill="#111" stroke="none" stroke-width="0"/>
<circle cx="266.7" cy="379" r="1.8" fill="#111" stroke="none" stroke-width="0"/>
<rect x="272.3" y="378.4" width="13.399999999999977" height="49.200000000000045" fill="#fff" stroke="#222" stroke-width="0.95"/>
<line x1="279.0" y1="372.6" x2="279.0" y2="385" stroke="#222" stroke-width="0.8" />
<line x1="276.3" y1="372.6" x2="281.7" y2="372.6" stroke="#222" stroke-width="0.8" />
<line x1="276.3" y1="385" x2="281.7" y2="385" stroke="#222" stroke-width="0.8" />
<circle cx="279" cy="372.9" r="1.8" fill="#e8392a" stroke="none" stroke-width="0"/>
<circle cx="279" cy="377.1" r="1.8" fill="#e8392a" stroke="none" stroke-width="0"/>
<circle cx="279" cy="385.1" r="1.8" fill="#e8392a" stroke="none" stroke-width="0"/>
<rect x="295.4" y="408.5" width="11.5" height="19.100000000000023" fill="#a6a6a6" stroke="#222" stroke-width="0.95"/>
<line x1="301.15" y1="403.8" x2="301.15" y2="412.8" stroke="#222" stroke-width="0.8" />
<line x1="298.45" y1="403.8" x2="303.84999999999997" y2="403.8" stroke="#222" stroke-width="0.8" />
<line x1="298.45" y1="412.8" x2="303.84999999999997" y2="412.8" stroke="#222" stroke-width="0.8" />
<circle cx="296.7" cy="404.6" r="1.8" fill="#111" stroke="none" stroke-width="0"/>
<circle cx="305.9" cy="405.9" r="1.8" fill="#111" stroke="none" stroke-width="0"/>
<circle cx="301.8" cy="412.8" r="1.8" fill="#111" stroke="none" stroke-width="0"/>
<rect x="311.5" y="405.1" width="12.300000000000011" height="22.5" fill="#fff" stroke="#222" stroke-width="0.95"/>
<circle cx="312.8" cy="405.1" r="1.8" fill="#e8392a" stroke="none" stroke-width="0"/>
<circle cx="318" cy="405.1" r="1.8" fill="#e8392a" stroke="none" stroke-width="0"/>
<circle cx="323.1" cy="405.1" r="1.8" fill="#e8392a" stroke="none" stroke-width="0"/>
<circle cx="218.6" cy="427.6" r="1.7" fill="#111" stroke="none" stroke-width="0"/>
<circle cx="223.4" cy="427.6" r="1.7" fill="#111" stroke="none" stroke-width="0"/>
<circle cx="228.1" cy="427.6" r="1.7" fill="#111" stroke="none" stroke-width="0"/>
<circle cx="234.7" cy="427.6" r="1.7" fill="#e8392a" stroke="none" stroke-width="0"/>
<circle cx="239.8" cy="427.6" r="1.7" fill="#e8392a" stroke="none" stroke-width="0"/>
<circle cx="244.8" cy="427.6" r="1.7" fill="#e8392a" stroke="none" stroke-width="0"/>
<text x="234.8" y="437.6" font-size="7" text-anchor="middle" fill="#1a1a1a" stroke="#1a1a1a" >uninf</text>
<text x="270" y="437.6" font-size="7" text-anchor="middle" font-style="italic" fill="#1a1a1a" stroke="#1a1a1a" >L.p.</text>
<text x="308.8" y="437.6" font-size="7" text-anchor="middle" font-style="italic" fill="#1a1a1a" stroke="#1a1a1a" >L.p. ΔflaA</text>
<text x="8.4" y="451.5" font-size="7" text-anchor="start" fill="#1a1a1a" stroke="#1a1a1a" >I</text>
<line x1="40.1" y1="460" x2="40.1" y2="535.6" stroke="#333" stroke-width="1.0" />
<line x1="39.6" y1="535.1" x2="160.8" y2="535.1" stroke="#333" stroke-width="1.0" />
<line x1="37.9" y1="460" x2="40.1" y2="460" stroke="#333" stroke-width="0.8" />
<text x="32" y="462.2" font-size="7.1" text-anchor="end" fill="#1a1a1a" stroke="#1a1a1a">1000</text>
<line x1="37.9" y1="483.3" x2="40.1" y2="483.3" stroke="#333" stroke-width="0.8" />
<text x="33.8" y="485.5" font-size="7.1" text-anchor="end" fill="#1a1a1a" stroke="#1a1a1a">100</text>
<line x1="37.9" y1="506.9" x2="40.1" y2="506.9" stroke="#333" stroke-width="0.8" />
<text x="34.4" y="509.09999999999997" font-size="7.1" text-anchor="end" fill="#1a1a1a" stroke="#1a1a1a">10</text>
<line x1="37.9" y1="530.4" x2="40.1" y2="530.4" stroke="#333" stroke-width="0.8" />
<text x="35" y="532.6" font-size="7.1" text-anchor="end" fill="#1a1a1a" stroke="#1a1a1a">1</text>
<text x="9.2" y="493.5" font-size="7.1" text-anchor="middle" fill="#1a1a1a" stroke="#1a1a1a" transform="rotate(-90 9.2 493.5)">RQ [<tspan font-style="italic">TNFA/GAPDH</tspan>]</text>
<line x1="63.2" y1="535.1" x2="63.2" y2="537.3000000000001" stroke="#333" stroke-width="0.8" />
<line x1="100.5" y1="535.1" x2="100.5" y2="537.3000000000001" stroke="#333" stroke-width="0.8" />
<line x1="137.7" y1="535.1" x2="137.7" y2="537.3000000000001" stroke="#333" stroke-width="0.8" />
<rect x="49.3" y="531.5" width="12.600000000000001" height="3.6000000000000227" fill="#a6a6a6" stroke="#222" stroke-width="0.95"/>
<circle cx="51.3" cy="531.8" r="1.8" fill="#111" stroke="none" stroke-width="0"/>
<circle cx="55.9" cy="530.4" r="1.8" fill="#111" stroke="none" stroke-width="0"/>
<circle cx="60.5" cy="531.2" r="1.8" fill="#111" stroke="none" stroke-width="0"/>
<rect x="66.5" y="532.5" width="10.400000000000006" height="2.6000000000000227" fill="#fff" stroke="#222" stroke-width="0.95"/>
<line x1="71.7" y1="530.5" x2="71.7" y2="534" stroke="#222" stroke-width="0.8" />
<line x1="69.0" y1="530.5" x2="74.4" y2="530.5" stroke="#222" stroke-width="0.8" />
<line x1="69.0" y1="534" x2="74.4" y2="534" stroke="#222" stroke-width="0.8" />
<circle cx="66.9" cy="535.2" r="1.8" fill="#e8392a" stroke="none" stroke-width="0"/>
<circle cx="71.3" cy="531.2" r="1.8" fill="#e8392a" stroke="none" stroke-width="0"/>
<circle cx="75.9" cy="533.8" r="1.8" fill="#e8392a" stroke="none" stroke-width="0"/>
<rect x="86" y="489.3" width="13.400000000000006" height="45.80000000000001" fill="#a6a6a6" stroke="#222" stroke-width="0.95"/>
<line x1="92.7" y1="485.2" x2="92.7" y2="497.5" stroke="#222" stroke-width="0.8" />
<line x1="90.0" y1="485.2" x2="95.4" y2="485.2" stroke="#222" stroke-width="0.8" />
<line x1="90.0" y1="497.5" x2="95.4" y2="497.5" stroke="#222" stroke-width="0.8" />
<circle cx="88.5" cy="494.8" r="1.8" fill="#111" stroke="none" stroke-width="0"/>
<circle cx="92.4" cy="484.4" r="1.8" fill="#111" stroke="none" stroke-width="0"/>
<circle cx="97.3" cy="492" r="1.8" fill="#111" stroke="none" stroke-width="0"/>
<rect x="101.4" y="492.4" width="13.399999999999991" height="42.700000000000045" fill="#fff" stroke="#222" stroke-width="0.95"/>
<line x1="108.1" y1="483.7" x2="108.1" y2="505" stroke="#222" stroke-width="0.8" />
<line x1="105.39999999999999" y1="483.7" x2="110.8" y2="483.7" stroke="#222" stroke-width="0.8" />
<line x1="105.39999999999999" y1="505" x2="110.8" y2="505" stroke="#222" stroke-width="0.8" />
<circle cx="108.2" cy="483.7" r="1.8" fill="#e8392a" stroke="none" stroke-width="0"/>
<circle cx="103.5" cy="502.6" r="1.8" fill="#e8392a" stroke="none" stroke-width="0"/>
<circle cx="112.3" cy="499.5" r="1.8" fill="#e8392a" stroke="none" stroke-width="0"/>
<rect x="123" y="491.3" width="12.300000000000011" height="43.80000000000001" fill="#a6a6a6" stroke="#222" stroke-width="0.95"/>
<line x1="129.15" y1="486.5" x2="129.15" y2="502.2" stroke="#222" stroke-width="0.8" />
<line x1="126.45" y1="486.5" x2="131.85" y2="486.5" stroke="#222" stroke-width="0.8" />
<line x1="126.45" y1="502.2" x2="131.85" y2="502.2" stroke="#222" stroke-width="0.8" />
<circle cx="125" cy="496.5" r="1.8" fill="#111" stroke="none" stroke-width="0"/>
<circle cx="129.3" cy="486.2" r="1.8" fill="#111" stroke="none" stroke-width="0"/>
<circle cx="134.3" cy="496" r="1.8" fill="#111" stroke="none" stroke-width="0"/>
<rect x="139" y="494" width="12.699999999999989" height="41.10000000000002" fill="#fff" stroke="#222" stroke-width="0.95"/>
<line x1="145.35" y1="483.7" x2="145.35" y2="507" stroke="#222" stroke-width="0.8" />
<line x1="142.65" y1="483.7" x2="148.04999999999998" y2="483.7" stroke="#222" stroke-width="0.8" />
<line x1="142.65" y1="507" x2="148.04999999999998" y2="507" stroke="#222" stroke-width="0.8" />
<circle cx="145.1" cy="483.7" r="1.8" fill="#e8392a" stroke="none" stroke-width="0"/>
<circle cx="145.1" cy="507.3" r="1.8" fill="#e8392a" stroke="none" stroke-width="0"/>
<circle cx="145.1" cy="511.8" r="1.8" fill="#e8392a" stroke="none" stroke-width="0"/>
<text x="64.1" y="545.6" font-size="7" text-anchor="middle" fill="#1a1a1a" stroke="#1a1a1a" >uninf</text>
<text x="99.3" y="545.6" font-size="7" text-anchor="middle" font-style="italic" fill="#1a1a1a" stroke="#1a1a1a" >L.p.</text>
<text x="137.9" y="545.6" font-size="7" text-anchor="middle" font-style="italic" fill="#1a1a1a" stroke="#1a1a1a" >L.p. ΔflaA</text>
<text x="178.8" y="451.5" font-size="7" text-anchor="start" fill="#1a1a1a" stroke="#1a1a1a" >J</text>
<line x1="210.4" y1="458.5" x2="210.4" y2="534.7" stroke="#333" stroke-width="1.0" />
<line x1="209.9" y1="534.2" x2="331.5" y2="534.2" stroke="#333" stroke-width="1.0" />
<line x1="208.20000000000002" y1="458.5" x2="210.4" y2="458.5" stroke="#333" stroke-width="0.8" />
<text x="206.1" y="460.7" font-size="7.1" text-anchor="end" fill="#1a1a1a" stroke="#1a1a1a">2000</text>
<line x1="208.20000000000002" y1="477.5" x2="210.4" y2="477.5" stroke="#333" stroke-width="0.8" />
<text x="206.1" y="479.7" font-size="7.1" text-anchor="end" fill="#1a1a1a" stroke="#1a1a1a">1500</text>
<line x1="208.20000000000002" y1="496.4" x2="210.4" y2="496.4" stroke="#333" stroke-width="0.8" />
<text x="206.1" y="498.59999999999997" font-size="7.1" text-anchor="end" fill="#1a1a1a" stroke="#1a1a1a">1000</text>
<line x1="208.20000000000002" y1="515.3" x2="210.4" y2="515.3" stroke="#333" stroke-width="0.8" />
<text x="206.1" y="517.5" font-size="7.1" text-anchor="end" fill="#1a1a1a" stroke="#1a1a1a">500</text>
<line x1="208.20000000000002" y1="534.2" x2="210.4" y2="534.2" stroke="#333" stroke-width="0.8" />
<text x="206.1" y="536.4000000000001" font-size="7.1" text-anchor="end" fill="#1a1a1a" stroke="#1a1a1a">0</text>
<text x="180" y="494.5" font-size="7.1" text-anchor="middle" fill="#1a1a1a" stroke="#1a1a1a" transform="rotate(-90 180 494.5)">TNFα [pg/ml]</text>
<line x1="232.4" y1="534.2" x2="232.4" y2="536.4000000000001" stroke="#333" stroke-width="0.8" />
<line x1="271.8" y1="534.2" x2="271.8" y2="536.4000000000001" stroke="#333" stroke-width="0.8" />
<line x1="310.6" y1="534.2" x2="310.6" y2="536.4000000000001" stroke="#333" stroke-width="0.8" />
<rect x="257.2" y="491.3" width="12.800000000000011" height="42.900000000000034" fill="#a6a6a6" stroke="#222" stroke-width="0.95"/>
<line x1="263.6" y1="471.5" x2="263.6" y2="510" stroke="#222" stroke-width="0.8" />
<line x1="260.90000000000003" y1="471.5" x2="266.3" y2="471.5" stroke="#222" stroke-width="0.8" />
<line x1="260.90000000000003" y1="510" x2="266.3" y2="510" stroke="#222" stroke-width="0.8" />
<circle cx="263.6" cy="476.7" r="1.8" fill="#111" stroke="none" stroke-width="0"/>
<circle cx="263.6" cy="482.6" r="1.8" fill="#111" stroke="none" stroke-width="0"/>
<circle cx="263.6" cy="513.3" r="1.8" fill="#111" stroke="none" stroke-width="0"/>
<rect x="273.6" y="498.5" width="12.799999999999955" height="35.700000000000045" fill="#fff" stroke="#222" stroke-width="0.95"/>
<line x1="280.0" y1="480" x2="280.0" y2="515.9" stroke="#222" stroke-width="0.8" />
<line x1="277.3" y1="480" x2="282.7" y2="480" stroke="#222" stroke-width="0.8" />
<line x1="277.3" y1="515.9" x2="282.7" y2="515.9" stroke="#222" stroke-width="0.8" />
<circle cx="274.9" cy="486.4" r="1.8" fill="#e8392a" stroke="none" stroke-width="0"/>
<circle cx="284.6" cy="489.5" r="1.8" fill="#e8392a" stroke="none" stroke-width="0"/>
<circle cx="280" cy="518.5" r="1.8" fill="#e8392a" stroke="none" stroke-width="0"/>
<rect x="296.2" y="518.2" width="12.800000000000011" height="16.0" fill="#a6a6a6" stroke="#222" stroke-width="0.95"/>
<line x1="302.6" y1="499" x2="302.6" y2="534.2" stroke="#222" stroke-width="0.8" />
<line x1="299.90000000000003" y1="499" x2="305.3" y2="499" stroke="#222" stroke-width="0.8" />
<line x1="299.90000000000003" y1="534.2" x2="305.3" y2="534.2" stroke="#222" stroke-width="0.8" />
<circle cx="302.6" cy="496.4" r="1.8" fill="#111" stroke="none" stroke-width="0"/>
<circle cx="298.2" cy="528" r="1.8" fill="#111" stroke="none" stroke-width="0"/>
<circle cx="307.7" cy="528" r="1.8" fill="#111" stroke="none" stroke-width="0"/>
<rect x="312.3" y="525.4" width="12.599999999999966" height="8.800000000000068" fill="#fff" stroke="#222" stroke-width="0.95"/>
<line x1="318.6" y1="509.2" x2="318.6" y2="534.2" stroke="#222" stroke-width="0.8" />
<line x1="315.90000000000003" y1="509.2" x2="321.3" y2="509.2" stroke="#222" stroke-width="0.8" />
<line x1="315.90000000000003" y1="534.2" x2="321.3" y2="534.2" stroke="#222" stroke-width="0.8" />
<circle cx="318.7" cy="507.4" r="1.8" fill="#e8392a" stroke="none" stroke-width="0"/>
<circle cx="313.6" cy="533.8" r="1.8" fill="#e8392a" stroke="none" stroke-width="0"/>
<circle cx="323.8" cy="533.8" r="1.8" fill="#e8392a" stroke="none" stroke-width="0"/>
<circle cx="219.6" cy="534.2" r="1.7" fill="#111" stroke="none" stroke-width="0"/>
<circle cx="224.7" cy="534.2" r="1.7" fill="#111" stroke="none" stroke-width="0"/>
<circle cx="229.4" cy="534.2" r="1.7" fill="#111" stroke="none" stroke-width="0"/>
<circle cx="236" cy="534.2" r="1.7" fill="#e8392a" stroke="none" stroke-width="0"/>
<circle cx="240.6" cy="534.2" r="1.7" fill="#e8392a" stroke="none" stroke-width="0"/>
<circle cx="245.6" cy="534.2" r="1.7" fill="#e8392a" stroke="none" stroke-width="0"/>
<text x="232.7" y="543.8" font-size="7" text-anchor="middle" fill="#1a1a1a" stroke="#1a1a1a" >uninf</text>
<text x="271.8" y="543.8" font-size="7" text-anchor="middle" font-style="italic" fill="#1a1a1a" stroke="#1a1a1a" >L.p.</text>
<text x="310.6" y="543.8" font-size="7" text-anchor="middle" font-style="italic" fill="#1a1a1a" stroke="#1a1a1a" >L.p. ΔflaA</text>
</svg></body></html>
